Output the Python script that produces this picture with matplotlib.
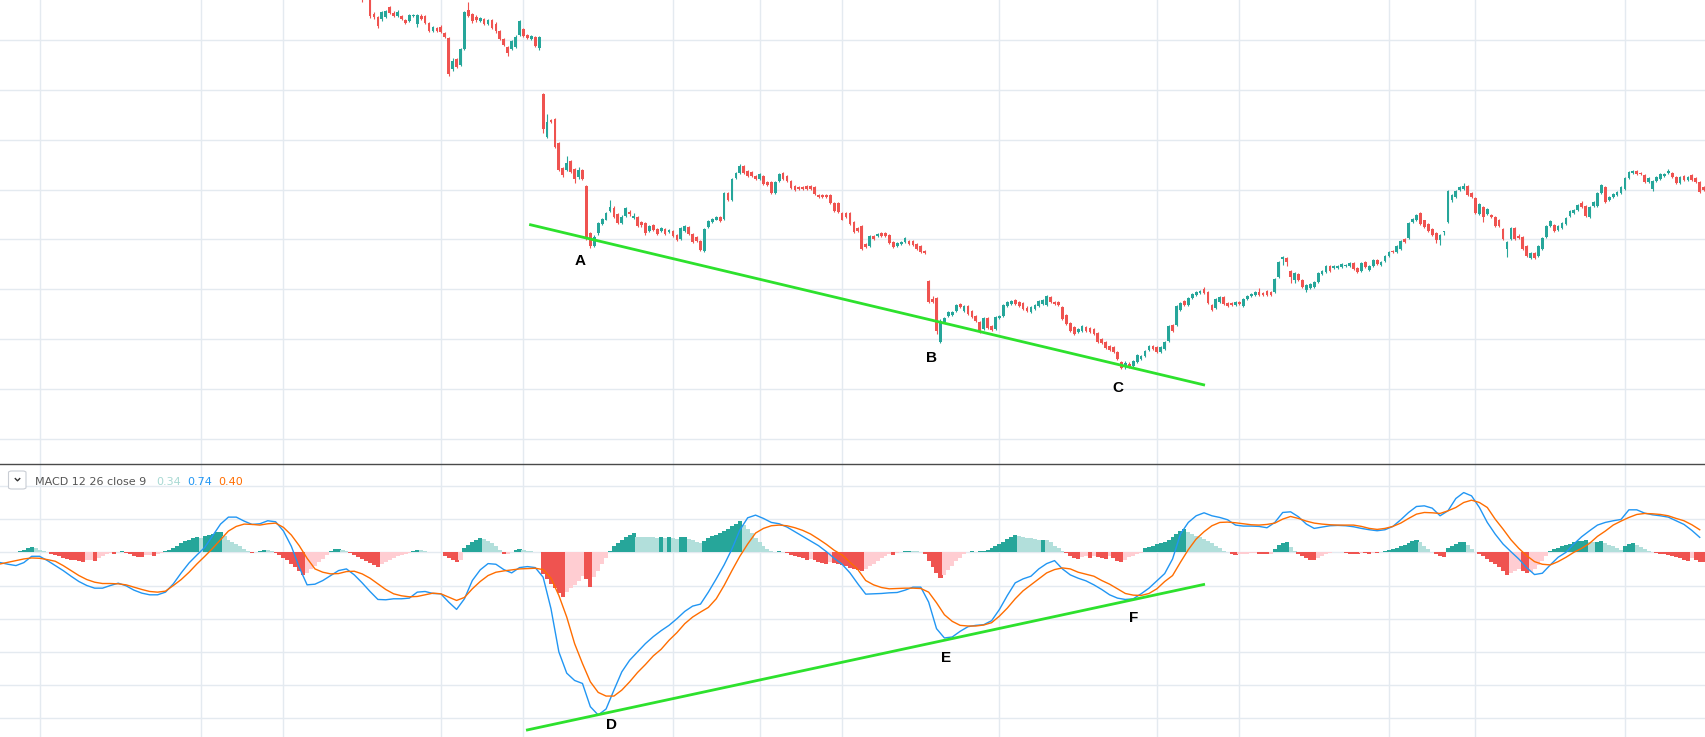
import numpy as np
import matplotlib.pyplot as plt
from matplotlib.patches import FancyBboxPatch

# Bougies journalières, de la barre 90 à la barre 431
first_bar = 90
opens = [
    104.6, 105.0, 104.5, 102.6, 102.3, 102.1, 102.3, 103.3, 102.7, 102.4,
    102.4, 102.0, 101.9, 102.4, 101.6, 102.4, 102.4, 101.7, 100.9, 101.2,
    101.3, 100.7, 100.2, 97.1, 98.1, 97.5, 99.1, 103.0, 102.6, 102.3,
    101.9, 102.1, 101.6, 102.0, 101.6, 100.9, 100.1, 99.3, 99.1, 99.3,
    100.5, 101.1, 100.5, 100.1, 100.3, 99.2, 94.6, 90.3, 92.0, 92.1,
    89.7, 87.2, 87.0, 87.9, 87.1, 86.3, 87.0, 85.4, 80.6, 79.3,
    80.6, 81.5, 82.0, 82.9, 83.2, 82.6, 81.6, 82.4, 82.8, 82.2,
    82.3, 81.7, 81.6, 80.8, 81.4, 81.0, 80.8, 81.0, 80.7, 80.8,
    80.4, 80.0, 80.8, 81.2, 80.5, 80.2, 79.8, 78.8, 81.2, 81.7,
    82.0, 82.3, 82.1, 84.7, 84.0, 86.2, 86.7, 87.4, 86.9, 86.8,
    86.4, 86.1, 86.4, 85.8, 85.8, 84.7, 85.9, 86.7, 86.4, 85.9,
    85.4, 85.3, 85.3, 85.4, 85.4, 85.3, 84.5, 84.5, 84.5, 84.5,
    83.7, 83.7, 82.7, 82.7, 82.7, 81.7, 81.1, 81.3, 79.5, 79.3,
    80.3, 80.3, 80.6, 80.6, 80.4, 79.7, 79.3, 79.5, 79.7, 79.8,
    79.8, 79.5, 79.3, 78.8, 75.8, 74.0, 74.1, 69.7, 71.7, 72.3,
    72.4, 72.8, 73.5, 72.8, 73.3, 72.8, 72.3, 71.7, 71.0, 72.1,
    71.3, 71.0, 72.1, 72.3, 73.3, 73.5, 73.9, 73.7, 73.6, 73.1,
    72.7, 73.0, 73.3, 73.5, 73.4, 74.2, 73.7, 73.7, 73.2, 72.4,
    71.6, 71.2, 70.7, 70.8, 71.2, 71.1, 71.0, 70.6, 70.0, 69.7,
    69.3, 69.2, 68.7, 67.7, 67.2, 67.5, 67.3, 67.7, 68.0, 68.3,
    68.9, 69.3, 69.2, 68.7, 69.0, 69.8, 71.4, 71.4, 72.9, 73.8,
    73.4, 74.1, 74.4, 74.6, 75.0, 74.7, 73.4, 73.1, 73.7, 74.2,
    73.6, 73.6, 73.4, 73.7, 73.3, 74.0, 74.3, 74.4, 74.7, 74.6,
    74.8, 74.7, 74.7, 76.2, 78.0, 78.1, 76.8, 75.9, 76.5, 75.9,
    74.9, 75.1, 75.2, 75.7, 76.5, 76.7, 77.3, 77.1, 77.1, 77.2,
    77.3, 77.3, 77.6, 77.1, 76.8, 77.7, 76.9, 77.3, 77.9, 77.4,
    77.8, 78.3, 78.8, 78.7, 79.0, 80.0, 80.1, 81.7, 81.9, 82.7,
    81.9, 81.5, 81.0, 80.6, 79.9, 80.7, 81.7, 84.0, 84.3, 85.0,
    85.1, 85.4, 84.7, 84.2, 82.6, 83.3, 82.6, 82.5, 82.3, 82.0,
    81.0, 79.0, 80.0, 81.1, 80.3, 80.2, 79.3, 78.1, 78.6, 78.3,
    79.0, 80.2, 81.3, 81.4, 80.9, 81.1, 81.5, 82.4, 82.7, 83.0,
    83.7, 83.4, 82.3, 83.4, 83.4, 84.7, 85.3, 84.0, 84.3, 84.5,
    84.7, 85.1, 86.2, 86.7, 86.9, 86.7, 86.5, 85.8, 85.1, 85.9,
    86.1, 86.4, 86.7, 86.7, 86.3, 85.7, 86.4, 86.0, 86.5, 86.2,
    85.8, 85.3,
]
highs = [
    104.9, 105.3, 105.0, 102.8, 102.4, 102.9, 103.0, 103.4, 102.9, 103.0,
    102.5, 102.1, 102.6, 102.6, 102.6, 102.6, 102.5, 101.8, 101.4, 101.3,
    101.5, 100.8, 100.3, 98.2, 98.2, 99.2, 102.9, 103.8, 102.7, 102.5,
    102.3, 102.2, 102.1, 102.1, 101.8, 101.0, 100.2, 99.4, 100.0, 100.5,
    102.0, 101.2, 100.6, 100.5, 100.4, 100.4, 94.7, 92.6, 92.1, 92.2,
    89.8, 87.3, 88.4, 88.0, 87.2, 87.3, 87.1, 85.5, 80.7, 80.4,
    81.7, 82.2, 82.8, 84.0, 83.4, 82.7, 82.5, 83.3, 83.0, 82.7,
    82.4, 81.8, 81.7, 81.4, 81.5, 81.1, 81.2, 81.1, 81.0, 80.9,
    80.5, 81.2, 81.4, 81.3, 80.6, 80.3, 79.9, 81.1, 81.9, 82.2,
    82.4, 82.4, 84.8, 84.8, 86.2, 86.8, 87.6, 87.5, 87.0, 86.9,
    86.5, 86.7, 86.5, 85.9, 85.9, 85.9, 86.7, 86.8, 86.5, 86.0,
    85.5, 85.4, 85.4, 85.5, 85.5, 85.4, 84.6, 84.6, 84.6, 84.6,
    83.8, 83.8, 82.8, 82.8, 82.8, 81.8, 81.2, 81.4, 79.6, 80.4,
    80.4, 80.6, 80.7, 80.7, 80.5, 79.8, 79.7, 79.8, 80.2, 79.9,
    79.9, 79.6, 79.4, 78.9, 75.9, 74.3, 74.2, 72.0, 72.2, 72.8,
    72.8, 73.5, 73.6, 73.4, 73.4, 72.9, 72.4, 71.8, 72.2, 72.2,
    71.4, 72.3, 72.4, 73.5, 73.8, 73.9, 74.0, 73.8, 73.7, 73.3,
    73.3, 73.5, 73.9, 74.0, 74.4, 74.3, 73.8, 73.8, 73.3, 72.5,
    71.7, 71.3, 71.1, 71.4, 71.3, 71.2, 71.1, 70.7, 70.1, 69.8,
    69.4, 69.3, 68.8, 67.8, 67.8, 67.7, 67.9, 68.5, 68.4, 68.9,
    69.4, 69.4, 69.3, 69.3, 69.8, 71.4, 71.5, 73.4, 73.7, 73.9,
    74.2, 74.6, 74.8, 74.9, 75.2, 74.8, 73.5, 74.1, 74.3, 74.3,
    73.7, 73.7, 73.8, 73.8, 74.1, 74.4, 74.6, 74.8, 75.1, 74.7,
    74.9, 74.8, 76.1, 77.8, 78.3, 78.2, 76.9, 76.7, 76.6, 76.0,
    75.5, 75.6, 75.8, 76.7, 76.9, 77.4, 77.4, 77.4, 77.4, 77.6,
    77.5, 77.7, 77.7, 77.2, 77.7, 77.8, 77.4, 78.0, 78.0, 77.8,
    78.4, 78.8, 78.9, 79.4, 79.9, 80.1, 81.7, 82.2, 82.6, 82.8,
    82.0, 81.6, 81.1, 80.7, 80.5, 80.8, 85.0, 84.6, 85.0, 85.4,
    85.7, 85.5, 84.8, 84.3, 83.7, 83.4, 83.2, 82.6, 82.4, 82.1,
    81.1, 79.8, 81.2, 81.2, 80.5, 80.3, 79.4, 78.7, 78.7, 79.4,
    80.2, 81.4, 81.9, 81.5, 81.4, 81.7, 82.3, 83.0, 83.1, 83.6,
    83.9, 83.5, 83.4, 83.9, 84.8, 85.6, 85.4, 84.4, 84.7, 84.9,
    85.4, 86.3, 86.9, 87.0, 87.0, 86.8, 86.6, 86.3, 86.0, 86.4,
    86.7, 86.7, 87.1, 86.8, 86.4, 86.4, 86.5, 86.4, 86.6, 86.3,
    85.9, 85.4,
]
lows = [
    103.8, 104.2, 102.2, 102.1, 101.2, 101.9, 102.2, 102.6, 102.3, 102.3,
    102.0, 101.6, 101.8, 102.3, 101.3, 102.0, 101.6, 100.8, 100.8, 100.8,
    100.7, 100.2, 96.4, 96.9, 97.2, 97.4, 99.0, 102.3, 101.7, 101.8,
    101.8, 101.5, 101.5, 101.1, 100.7, 100.0, 99.4, 98.4, 99.0, 99.2,
    100.4, 100.3, 100.1, 100.0, 99.3, 99.0, 90.7, 90.2, 91.7, 89.2,
    86.9, 86.3, 86.9, 86.7, 85.7, 86.1, 86.0, 79.9, 79.1, 79.2,
    80.4, 81.4, 81.9, 82.8, 82.2, 81.5, 81.5, 82.3, 82.4, 82.1,
    81.2, 81.2, 80.4, 80.7, 80.8, 80.4, 80.7, 80.4, 80.6, 80.2,
    79.8, 79.9, 80.7, 80.4, 79.6, 79.7, 78.8, 78.7, 81.1, 81.6,
    81.9, 81.7, 82.0, 83.9, 83.9, 86.1, 86.6, 86.6, 86.3, 86.3,
    86.0, 86.0, 85.5, 85.4, 84.6, 84.6, 85.8, 86.0, 85.8, 85.1,
    84.9, 85.0, 85.0, 85.0, 85.0, 84.5, 84.2, 84.2, 84.2, 83.6,
    82.8, 82.7, 81.9, 82.2, 81.4, 80.6, 80.7, 78.9, 79.1, 79.2,
    79.9, 80.2, 80.2, 80.2, 79.5, 79.1, 79.2, 79.4, 79.6, 79.4,
    79.3, 78.9, 78.6, 78.5, 73.6, 73.6, 70.5, 69.6, 71.6, 72.2,
    72.3, 72.7, 73.1, 72.7, 72.4, 72.1, 71.7, 70.6, 70.9, 71.0,
    70.8, 70.9, 72.0, 72.2, 73.2, 73.4, 73.4, 73.2, 72.9, 72.7,
    72.6, 72.9, 73.2, 73.4, 73.3, 73.6, 73.4, 73.3, 71.9, 71.4,
    70.7, 70.4, 70.6, 70.7, 70.7, 70.6, 70.4, 69.6, 69.5, 69.0,
    68.8, 68.6, 67.9, 67.0, 67.0, 67.1, 67.2, 67.6, 67.9, 68.2,
    68.8, 68.9, 68.6, 68.6, 68.9, 69.7, 70.7, 71.3, 72.8, 73.3,
    73.3, 74.0, 74.3, 74.5, 74.5, 73.5, 72.8, 73.0, 73.6, 73.4,
    73.2, 73.3, 73.3, 73.4, 73.2, 73.9, 74.2, 74.3, 74.3, 74.3,
    74.3, 74.3, 74.6, 76.1, 77.4, 77.3, 75.6, 75.6, 75.8, 75.1,
    74.7, 75.0, 75.1, 75.6, 76.4, 76.6, 76.7, 77.0, 77.0, 77.1,
    77.2, 77.2, 76.9, 76.6, 76.7, 77.1, 76.8, 77.2, 77.4, 77.3,
    77.7, 78.2, 78.6, 78.6, 78.9, 79.6, 80.0, 81.6, 81.8, 81.4,
    81.1, 80.7, 80.3, 79.6, 79.4, 80.4, 81.6, 83.8, 84.2, 84.9,
    85.0, 84.4, 84.2, 82.6, 82.5, 81.7, 82.5, 82.2, 81.2, 81.2,
    79.9, 78.2, 79.9, 79.9, 80.0, 78.9, 78.2, 78.0, 78.0, 78.2,
    78.9, 80.1, 81.2, 80.7, 80.8, 81.0, 81.4, 82.3, 82.6, 82.9,
    83.2, 82.3, 82.2, 83.3, 83.3, 84.6, 83.7, 83.9, 84.2, 84.4,
    84.6, 85.0, 86.1, 86.6, 86.5, 86.5, 85.7, 85.7, 84.9, 85.8,
    86.0, 86.3, 86.6, 86.2, 85.6, 85.6, 85.9, 85.9, 85.9, 85.7,
    84.7, 84.9,
]
closes = [
    104.2, 104.4, 102.4, 102.3, 101.4, 102.8, 102.9, 102.7, 102.4, 102.8,
    102.1, 101.7, 102.5, 102.5, 102.5, 102.1, 101.7, 100.9, 101.3, 100.9,
    100.8, 100.3, 96.6, 97.9, 97.3, 99.1, 102.8, 102.4, 101.9, 102.0,
    102.2, 101.6, 102.0, 101.2, 100.9, 100.1, 99.5, 98.7, 99.9, 100.3,
    101.9, 100.4, 100.2, 100.4, 99.4, 100.3, 91.1, 91.8, 91.8, 89.3,
    87.0, 86.5, 87.7, 86.8, 86.1, 87.0, 86.1, 80.1, 79.3, 80.2,
    81.6, 82.1, 82.7, 83.3, 82.3, 81.6, 82.3, 83.2, 82.6, 82.4,
    81.3, 81.4, 80.6, 81.3, 80.9, 80.5, 81.1, 80.5, 80.9, 80.3,
    79.9, 81.1, 81.3, 80.5, 79.7, 79.8, 78.9, 81.0, 81.8, 82.1,
    82.3, 81.8, 84.7, 84.0, 86.1, 86.7, 87.4, 86.7, 86.4, 86.4,
    86.1, 86.6, 85.6, 85.5, 84.7, 85.8, 86.6, 86.1, 85.9, 85.2,
    85.0, 85.1, 85.1, 85.1, 85.1, 84.6, 84.3, 84.3, 84.3, 83.7,
    82.9, 82.8, 82.0, 82.3, 81.5, 80.7, 80.8, 79.0, 79.2, 80.3,
    80.0, 80.5, 80.3, 80.3, 79.6, 79.2, 79.6, 79.7, 80.1, 79.5,
    79.4, 79.0, 78.7, 78.6, 73.7, 73.7, 70.8, 71.8, 72.1, 72.7,
    72.7, 73.4, 73.2, 73.3, 72.5, 72.2, 71.8, 70.8, 72.1, 71.1,
    70.9, 72.2, 72.3, 73.4, 73.7, 73.8, 73.5, 73.3, 73.0, 72.8,
    73.2, 73.4, 73.8, 73.9, 74.3, 73.7, 73.5, 73.4, 72.0, 71.5,
    70.8, 70.5, 71.0, 71.3, 70.8, 70.7, 70.5, 69.7, 69.6, 69.1,
    68.9, 68.7, 68.0, 67.1, 67.6, 67.3, 67.8, 68.4, 68.3, 68.8,
    69.3, 69.0, 68.7, 69.2, 69.7, 71.3, 70.8, 73.3, 73.6, 73.4,
    74.1, 74.5, 74.7, 74.8, 74.6, 73.6, 72.9, 74.0, 74.2, 73.5,
    73.3, 73.4, 73.7, 73.5, 74.0, 74.3, 74.5, 74.7, 74.4, 74.4,
    74.4, 74.4, 76.0, 77.7, 78.2, 77.7, 76.2, 76.6, 75.9, 75.2,
    75.4, 75.5, 75.7, 76.6, 76.8, 77.3, 76.8, 77.3, 77.3, 77.5,
    77.4, 77.6, 77.0, 76.7, 77.6, 77.2, 77.3, 77.9, 77.5, 77.7,
    78.3, 78.7, 78.7, 79.3, 79.8, 79.7, 81.6, 82.1, 82.5, 81.5,
    81.2, 80.8, 80.4, 79.9, 80.4, 80.8, 84.9, 84.5, 84.9, 85.3,
    85.4, 84.5, 84.3, 82.7, 83.6, 82.3, 83.1, 82.3, 81.3, 81.3,
    80.0, 79.7, 81.1, 80.0, 80.1, 79.0, 78.3, 78.6, 78.1, 79.3,
    80.1, 81.3, 81.8, 80.8, 81.3, 81.6, 82.2, 82.9, 83.0, 83.5,
    83.3, 82.4, 83.3, 83.8, 84.7, 85.5, 83.8, 84.3, 84.6, 84.8,
    85.3, 86.2, 86.8, 86.9, 86.6, 86.6, 85.8, 86.2, 85.9, 86.3,
    86.6, 86.6, 86.9, 86.3, 85.7, 86.3, 86.0, 86.3, 86.0, 85.8,
    84.8, 85.0,
]

# MACD 12 26 9 : ligne et signal relevés toutes les 2 barres, depuis la barre -2
line_first = -2
macd_line = [
    -0.31, -0.36, -0.40, -0.31, -0.12, -0.12, -0.25, -0.40, -0.55, -0.72,
    -0.88, -1.00, -1.08, -1.08, -1.00, -0.93, -1.01, -1.14, -1.23, -1.28,
    -1.28, -1.20, -0.95, -0.62, -0.32, -0.08, 0.15, 0.50, 0.85, 1.06,
    1.06, 0.94, 0.84, 0.86, 0.95, 0.92, 0.64, 0.18, -0.45, -0.98,
    -0.96, -0.85, -0.70, -0.55, -0.50, -0.68, -0.92, -1.18, -1.42, -1.43,
    -1.40, -1.40, -1.38, -1.20, -1.18, -1.24, -1.25, -1.50, -1.72, -1.40,
    -0.85, -0.53, -0.34, -0.36, -0.52, -0.62, -0.46, -0.43, -0.46, -0.75,
    -1.70, -3.00, -3.64, -3.86, -3.95, -4.65, -4.90, -4.72, -4.15, -3.60,
    -3.25, -3.00, -2.75, -2.54, -2.36, -2.20, -2.00, -1.78, -1.62, -1.56,
    -1.20, -0.80, -0.38, 0.10, 0.67, 1.04, 1.12, 1.02, 0.90, 0.86,
    0.76, 0.62, 0.48, 0.34, 0.20, 0.02, -0.18, -0.36, -0.62, -0.95,
    -1.26, -1.25, -1.24, -1.22, -1.21, -1.14, -1.05, -1.05, -1.50, -2.30,
    -2.58, -2.55, -2.38, -2.24, -2.20, -2.18, -2.06, -1.72, -1.30, -0.92,
    -0.80, -0.72, -0.50, -0.34, -0.25, -0.50, -0.68, -0.78, -0.86, -0.98,
    -1.12, -1.28, -1.38, -1.42, -1.40, -1.25, -1.08, -0.86, -0.64, -0.20,
    0.55, 0.90, 1.10, 1.19, 1.10, 1.05, 0.98, 0.82, 0.79, 0.79,
    0.78, 0.74, 0.90, 1.20, 1.22, 1.07, 0.85, 0.72, 0.76, 0.80,
    0.81, 0.80, 0.77, 0.72, 0.68, 0.65, 0.68, 0.78, 0.98, 1.20,
    1.38, 1.40, 1.33, 1.10, 1.25, 1.62, 1.80, 1.70, 1.35, 0.90,
    0.55, 0.25, 0.02, -0.20, -0.46, -0.67, -0.63, -0.38, -0.15, 0.00,
    0.25, 0.47, 0.65, 0.82, 0.90, 0.95, 0.99, 1.28, 1.28, 1.18,
    1.13, 1.10, 1.06, 0.95, 0.84, 0.66, 0.45,
]
signal_line = [
    -0.35, -0.30, -0.25, -0.20, -0.17, -0.18, -0.22, -0.27, -0.40, -0.55,
    -0.70, -0.82, -0.90, -0.94, -0.94, -0.95, -0.98, -1.05, -1.12, -1.18,
    -1.20, -1.17, -1.00, -0.82, -0.60, -0.35, -0.12, 0.12, 0.38, 0.64,
    0.78, 0.85, 0.84, 0.82, 0.86, 0.88, 0.75, 0.52, 0.20, -0.18,
    -0.50, -0.60, -0.65, -0.64, -0.58, -0.57, -0.65, -0.78, -0.95, -1.12,
    -1.25, -1.31, -1.34, -1.33, -1.28, -1.23, -1.25, -1.35, -1.45, -1.36,
    -1.10, -0.88, -0.70, -0.60, -0.56, -0.53, -0.50, -0.49, -0.48, -0.52,
    -0.78, -1.30, -1.95, -2.75, -3.35, -3.90, -4.22, -4.33, -4.33, -4.15,
    -3.90, -3.62, -3.38, -3.12, -2.92, -2.65, -2.42, -2.15, -1.95, -1.80,
    -1.66, -1.40, -1.00, -0.55, -0.12, 0.25, 0.58, 0.72, 0.80, 0.82,
    0.80, 0.74, 0.66, 0.55, 0.40, 0.24, 0.06, -0.08, -0.30, -0.52,
    -0.85, -0.98, -1.06, -1.10, -1.09, -1.08, -1.08, -1.09, -1.20, -1.52,
    -1.88, -2.08, -2.20, -2.22, -2.22, -2.19, -2.12, -1.92, -1.68, -1.40,
    -1.16, -0.98, -0.80, -0.62, -0.52, -0.47, -0.50, -0.60, -0.66, -0.72,
    -0.85, -0.96, -1.10, -1.24, -1.29, -1.30, -1.24, -1.10, -0.88, -0.70,
    -0.30, 0.08, 0.40, 0.62, 0.80, 0.90, 0.91, 0.89, 0.86, 0.83,
    0.82, 0.84, 0.88, 1.00, 1.08, 1.02, 0.94, 0.88, 0.85, 0.83,
    0.82, 0.82, 0.82, 0.78, 0.72, 0.69, 0.72, 0.78, 0.88, 1.02,
    1.15, 1.20, 1.19, 1.17, 1.25, 1.35, 1.50, 1.57, 1.50, 1.35,
    1.00, 0.70, 0.38, 0.12, -0.10, -0.28, -0.36, -0.38, -0.28, -0.15,
    0.00, 0.12, 0.27, 0.48, 0.64, 0.82, 0.94, 1.05, 1.14, 1.17,
    1.16, 1.14, 1.10, 1.02, 0.95, 0.83, 0.68,
]

# histogramme MACD, une valeur par barre depuis la barre -2
hist_first = -2
macd_hist = [
    0.01, 0.01, 0.02, 0.01, 0.02, 0.05, 0.08, 0.12, 0.15, 0.14,
    0.08, 0.03, 0.00, -0.04, -0.08, -0.12, -0.16, -0.19, -0.22, -0.24,
    -0.26, -0.28, -0.24, -0.22, -0.25, -0.18, -0.12, -0.06, -0.02, -0.04,
    0.02, 0.04, -0.03, -0.06, -0.10, -0.13, -0.15, -0.09, -0.08, -0.11,
    -0.06, -0.02, 0.03, 0.07, 0.12, 0.20, 0.28, 0.34, 0.38, 0.42,
    0.45, 0.44, 0.50, 0.53, 0.56, 0.60, 0.62, 0.48, 0.38, 0.30,
    0.25, 0.18, 0.10, 0.04, -0.03, 0.01, 0.05, 0.07, 0.06, 0.03,
    -0.02, -0.08, -0.16, -0.24, -0.34, -0.45, -0.56, -0.68, -0.62, -0.50,
    -0.40, -0.30, -0.20, -0.08, 0.05, 0.09, 0.10, 0.07, 0.04, -0.03,
    -0.08, -0.14, -0.20, -0.26, -0.32, -0.38, -0.43, -0.36, -0.30, -0.24,
    -0.18, -0.12, -0.08, -0.04, -0.01, 0.04, 0.08, 0.07, 0.04, 0.02,
    0.01, 0.01, 0.00, -0.10, -0.18, -0.24, -0.28, -0.23, 0.12, 0.22,
    0.30, 0.38, 0.44, 0.40, 0.34, 0.27, 0.18, 0.08, -0.05, -0.04,
    0.00, 0.06, 0.09, 0.08, 0.05, 0.04, 0.02, 0.01, -0.65, -0.80,
    -0.95, -1.08, -1.22, -1.36, -1.20, -1.08, -0.98, -0.85, -0.72, -0.80,
    -1.03, -0.75, -0.56, -0.36, -0.16, 0.05, 0.18, 0.28, 0.38, 0.46,
    0.52, 0.57, 0.47, 0.46, 0.46, 0.45, 0.45, 0.44, 0.47, 0.44,
    0.47, 0.42, 0.41, 0.46, 0.47, 0.40, 0.36, 0.32, 0.28, 0.35,
    0.42, 0.48, 0.53, 0.58, 0.64, 0.70, 0.78, 0.85, 0.95, 0.82,
    0.70, 0.57, 0.44, 0.32, 0.20, 0.10, 0.03, 0.01, 0.04, 0.01,
    -0.03, -0.08, -0.12, -0.15, -0.18, -0.22, -0.20, -0.23, -0.28, -0.32,
    -0.34, -0.30, -0.31, -0.35, -0.38, -0.42, -0.46, -0.49, -0.52, -0.55,
    -0.50, -0.42, -0.34, -0.26, -0.18, -0.10, -0.05, -0.08, -0.02, 0.02,
    0.04, 0.05, 0.04, 0.03, 0.02, -0.05, -0.25, -0.45, -0.62, -0.76,
    -0.68, -0.52, -0.40, -0.27, -0.16, -0.05, 0.01, 0.03, 0.02, 0.04,
    0.05, 0.08, 0.14, 0.20, 0.26, 0.32, 0.40, 0.46, 0.52, 0.48,
    0.46, 0.44, 0.42, 0.40, 0.36, 0.38, 0.36, 0.30, 0.20, 0.12,
    0.05, -0.02, -0.12, -0.16, -0.20, -0.14, -0.12, -0.16, -0.10, -0.14,
    -0.18, -0.20, -0.10, -0.18, -0.25, -0.28, -0.22, -0.15, -0.10, -0.05,
    -0.02, 0.12, 0.16, 0.20, 0.24, 0.28, 0.32, 0.38, 0.45, 0.55,
    0.64, 0.70, 0.62, 0.56, 0.50, 0.45, 0.40, 0.34, 0.28, 0.20,
    0.12, 0.05, 0.00, -0.05, -0.07, -0.06, -0.05, -0.04, -0.03, -0.02,
    -0.04, -0.05, -0.06, -0.04, 0.10, 0.22, 0.28, 0.32, 0.15, 0.05,
    -0.05, -0.12, -0.18, -0.22, -0.24, -0.18, -0.12, -0.06, -0.02, 0.00,
    0.00, 0.00, -0.02, -0.04, -0.05, -0.06, -0.02, -0.03, -0.05, -0.01,
    -0.02, 0.00, 0.03, 0.07, 0.10, 0.14, 0.18, 0.22, 0.28, 0.34,
    0.37, 0.30, 0.20, 0.10, 0.02, -0.05, -0.10, -0.13, 0.12, 0.20,
    0.26, 0.30, 0.32, 0.22, 0.10, 0.02, -0.05, -0.12, -0.20, -0.28,
    -0.36, -0.45, -0.55, -0.68, -0.62, -0.55, -0.50, -0.55, -0.62, -0.58,
    -0.50, -0.38, -0.25, -0.12, 0.05, 0.10, 0.14, 0.18, 0.22, 0.26,
    0.30, 0.33, 0.35, 0.37, 0.32, 0.30, 0.31, 0.33, 0.28, 0.22,
    0.18, 0.12, 0.08, 0.20, 0.26, 0.28, 0.22, 0.16, 0.10, 0.05,
    0.01, -0.03, -0.04, -0.05, -0.08, -0.12, -0.15, -0.18, -0.22, -0.25,
    -0.18, -0.24, -0.28, -0.30,
]

# verticales de la grille (changements de mois), en numéro de barre
month_bars = [8, 49, 70, 110, 131, 169, 191, 212, 252, 292, 313, 351, 373, 411]

# lignes de divergence tracées à la main et points repérés
price_trend_bars = [132.8, 303.9]
price_trend_vals = [81.47, 65.4]
macd_trend_bars = [132.0, 303.9]
macd_trend_vals = [-5.35, -0.97]
price_marks = [("A", 145.5, 77.8), ("B", 234.8, 68.1), ("C", 282.1, 65.1)]
macd_marks = [("D", 153.3, -5.21), ("E", 238.4, -3.18), ("F", 286.2, -1.97)]

UP = "#26a69a"
DOWN = "#ef5350"
UP_LIGHT = "#b2dfdb"
DOWN_LIGHT = "#ffcdd2"
GREEN = "#2de12d"

W, H = 1705, 737
fig = plt.figure(figsize=(W / 100, H / 100), dpi=100)
fig.patch.set_facecolor("white")
ax = fig.add_axes([0, 273 / H, 1, 464 / H])
ax2 = fig.add_axes([0, 0, 1, 273 / H])

for a in (ax, ax2):
    a.set_xlim(-2.06, 431.34)
    a.set_xticks(month_bars)
    a.grid(True, color="#e4eaf0", lw=1)
    a.set_axisbelow(True)
    a.tick_params(length=0, labelbottom=False, labelleft=False)
    for s in a.spines.values():
        s.set_visible(False)

# --- prix ---
o = np.array(opens)
h = np.array(highs)
l = np.array(lows)
c = np.array(closes)
xb = np.arange(first_bar, first_bar + len(o))
col = np.where(c >= o, UP, DOWN)
ax.set_ylim(57.45, 104.04)
ax.set_yticks(range(60, 101, 5))
ax.vlines(xb, l, h, colors=col, lw=0.8, zorder=2)
ax.bar(xb, np.maximum(np.abs(c - o), 0.06), bottom=np.minimum(o, c),
       width=0.7, color=col, lw=0, zorder=3)
ax.plot(price_trend_bars, price_trend_vals, color=GREEN, lw=2, zorder=4)
for name, bx, val in price_marks:
    ax.text(bx, val, name, ha="center", va="center", fontsize=11,
            fontweight="bold", family=["Liberation Sans", "DejaVu Sans"])

# --- MACD ---
ax2.set_ylim(-5.563, 2.66)
ax2.set_yticks(range(-5, 3))
hv = np.array(macd_hist)
xh = np.arange(hist_first, hist_first + len(hv))
prev = np.concatenate([[hv[0]], hv[:-1]])
hcol = np.where(hv >= 0, np.where(hv > prev, UP, UP_LIGHT),
                np.where(hv > prev, DOWN_LIGHT, DOWN))
ax2.bar(xh, hv, width=1.05, color=hcol, lw=0, zorder=2)
xl = np.arange(line_first, line_first + 2 * len(macd_line), 2)
ax2.plot(xl, macd_line, color="#2196f3", lw=1.0, zorder=3)
ax2.plot(xl, signal_line, color="#ff6d00", lw=1.0, zorder=3)
ax2.plot(macd_trend_bars, macd_trend_vals, color=GREEN, lw=2, zorder=4)
for name, bx, val in macd_marks:
    ax2.text(bx, val, name, ha="center", va="center", fontsize=11,
             fontweight="bold", family=["Liberation Sans", "DejaVu Sans"])

ax2.spines["top"].set_visible(True)
ax2.spines["top"].set_color("#4a4a4a")
ax2.spines["top"].set_linewidth(1)

# légende de l'indicateur
def fx(px):
    return px / W

def fy(py):
    return 1 - py / H

box = FancyBboxPatch((fx(8.5), fy(489)), fx(17.5), 18 / H,
                     boxstyle="round,pad=0,rounding_size=0.002",
                     transform=fig.transFigure, facecolor="white",
                     edgecolor="#c9cdd4", lw=0.8)
fig.patches.append(box)
fig.lines.append(plt.Line2D([fx(15.3), fx(17.5), fx(19.7)],
                            [fy(478.6), fy(480.8), fy(478.6)],
                            transform=fig.transFigure, color="#333333", lw=1))
fig.text(fx(35), fy(482), "MACD 12 26 close 9", fontsize=8, color="#555555",
         va="center")
fig.text(fx(156), fy(482), "0.34", fontsize=8, color="#a8d9d3", va="center")
fig.text(fx(187), fy(482), "0.74", fontsize=8, color="#2196f3", va="center")
fig.text(fx(218), fy(482), "0.40", fontsize=8, color="#ff6d00", va="center")

fig.savefig("out.png", dpi=100)
